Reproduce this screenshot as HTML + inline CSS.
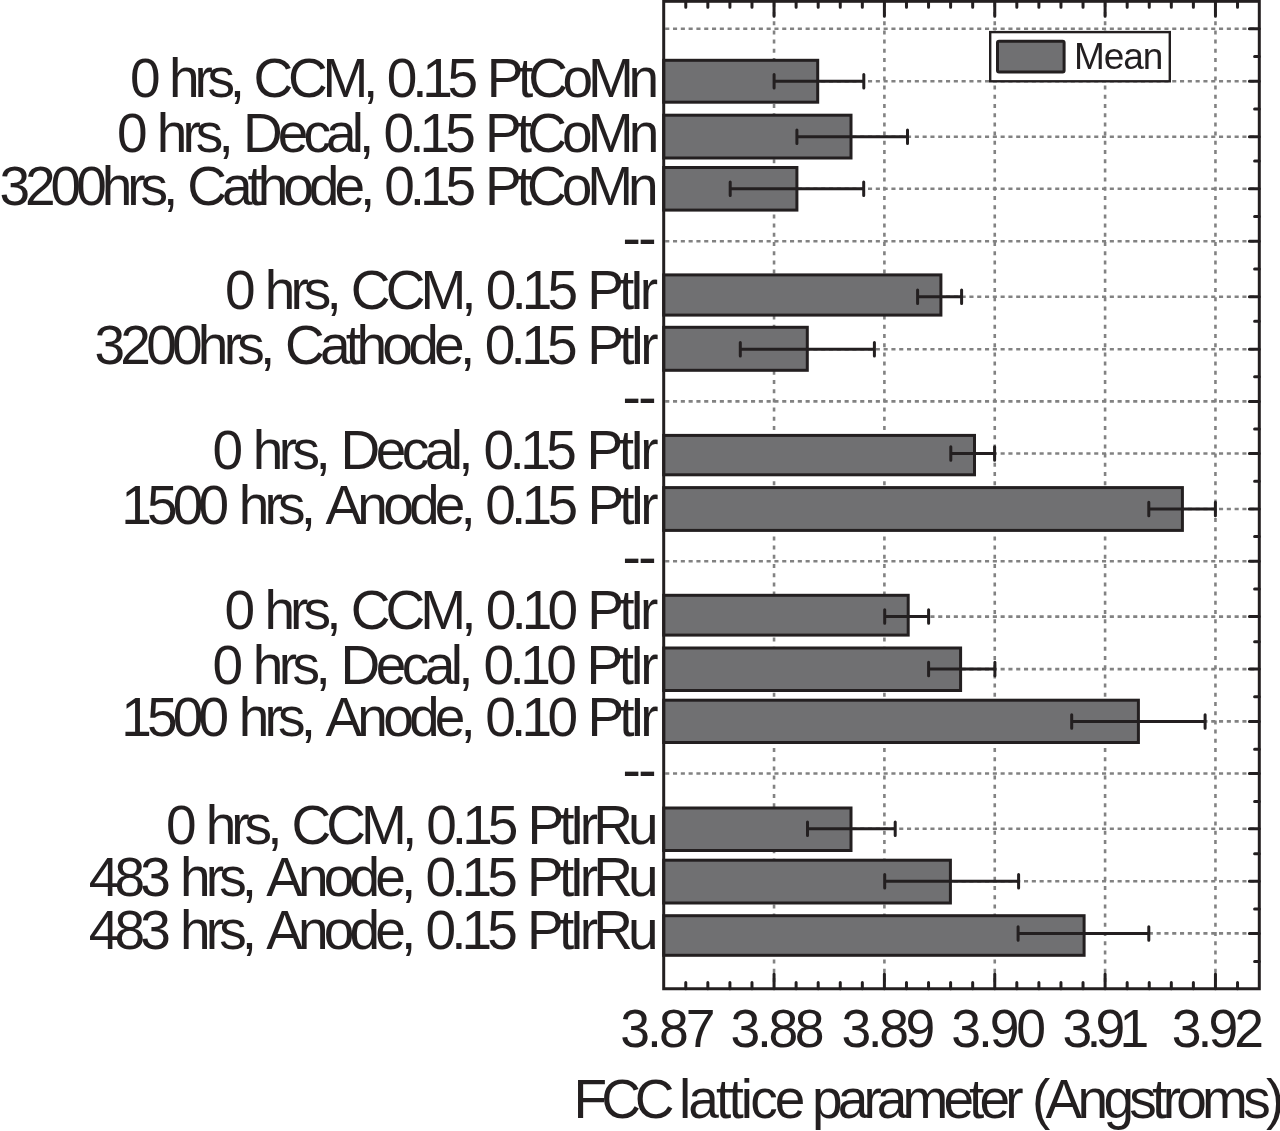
<!DOCTYPE html>
<html lang="en"><head><meta charset="utf-8"><title>FCC lattice parameter</title>
<style>html,body{margin:0;padding:0;background:#fff;overflow:hidden}svg{display:block}text{font-family:'Liberation Sans', Arial, Helvetica, sans-serif;fill:#231f20;font-kerning:none;letter-spacing:-4.87px;word-spacing:3.7px}</style></head><body>
<svg width="1280" height="1131" viewBox="0 0 1280 1131">
<rect x="0" y="0" width="1280" height="1131" fill="#fff"/>
<path d="M665.20 28.80H1257.80M665.20 81.30H1257.80M665.20 136.80H1257.80M665.20 188.70H1257.80M665.20 241.20H1257.80M665.20 296.70H1257.80M665.20 349.20H1257.80M665.20 401.40H1257.80M665.20 453.50H1257.80M665.20 509.00H1257.80M665.20 561.30H1257.80M665.20 616.60H1257.80M665.20 669.10H1257.80M665.20 721.40H1257.80M665.20 773.55H1257.80M665.20 828.80H1257.80M665.20 881.30H1257.80M665.20 933.40H1257.80" stroke="#828282" stroke-width="2.6" stroke-dasharray="4.1 3.7" fill="none"/>
<path d="M774.05 2.80V987.25M884.40 2.80V987.25M994.75 2.80V987.25M1105.10 2.80V987.25M1215.45 2.80V987.25" stroke="#828282" stroke-width="2.6" stroke-dasharray="4 5.2" fill="none"/>
<g fill="#707072" stroke="#231f20" stroke-width="3"><rect x="663.70" y="60.30" width="154.00" height="41.90"/><rect x="663.70" y="115.20" width="187.30" height="42.80"/><rect x="663.70" y="167.50" width="133.20" height="42.60"/><rect x="663.70" y="274.90" width="277.20" height="40.20"/><rect x="663.70" y="327.30" width="143.60" height="43.00"/><rect x="663.70" y="435.40" width="310.80" height="39.40"/><rect x="663.70" y="487.60" width="518.70" height="42.80"/><rect x="663.70" y="595.30" width="244.50" height="39.80"/><rect x="663.70" y="648.00" width="296.90" height="42.50"/><rect x="663.70" y="700.20" width="474.70" height="42.30"/><rect x="663.70" y="808.00" width="187.30" height="42.50"/><rect x="663.70" y="860.20" width="286.70" height="42.80"/><rect x="663.70" y="915.70" width="420.40" height="39.60"/></g>
<path d="M774.10 81.30H863.80M774.10 74.55V88.05M863.80 74.55V88.05M796.90 136.80H907.50M796.90 130.05V143.55M907.50 130.05V143.55M730.20 188.70H863.70M730.20 181.95V195.45M863.70 181.95V195.45M917.60 296.70H961.60M917.60 289.95V303.45M961.60 289.95V303.45M740.30 349.20H874.40M740.30 342.45V355.95M874.40 342.45V355.95M950.80 453.50H994.60M950.80 446.75V460.25M994.60 446.75V460.25M1148.80 509.00H1215.40M1148.80 502.25V515.75M1215.40 502.25V515.75M884.70 616.60H928.60M884.70 609.85V623.35M928.60 609.85V623.35M928.60 669.10H994.90M928.60 662.35V675.85M994.90 662.35V675.85M1071.70 721.40H1205.10M1071.70 714.65V728.15M1205.10 714.65V728.15M807.50 828.80H895.20M807.50 822.05V835.55M895.20 822.05V835.55M884.70 881.30H1018.60M884.70 874.55V888.05M1018.60 874.55V888.05M1018.10 933.40H1148.80M1018.10 926.65V940.15M1148.80 926.65V940.15" stroke="#231f20" stroke-width="3" fill="none" stroke-linecap="round"/>
<path d="M685.77 1.30V7.30M685.77 988.75V982.50M707.84 1.30V7.30M707.84 988.75V982.50M729.91 1.30V7.30M729.91 988.75V982.50M751.98 1.30V7.30M751.98 988.75V982.50M774.05 1.30V16.30M774.05 988.75V974.10M796.12 1.30V7.30M796.12 988.75V982.50M818.19 1.30V7.30M818.19 988.75V982.50M840.26 1.30V7.30M840.26 988.75V982.50M862.33 1.30V7.30M862.33 988.75V982.50M884.40 1.30V16.30M884.40 988.75V974.10M906.47 1.30V7.30M906.47 988.75V982.50M928.54 1.30V7.30M928.54 988.75V982.50M950.61 1.30V7.30M950.61 988.75V982.50M972.68 1.30V7.30M972.68 988.75V982.50M994.75 1.30V16.30M994.75 988.75V974.10M1016.82 1.30V7.30M1016.82 988.75V982.50M1038.89 1.30V7.30M1038.89 988.75V982.50M1060.96 1.30V7.30M1060.96 988.75V982.50M1083.03 1.30V7.30M1083.03 988.75V982.50M1105.10 1.30V16.30M1105.10 988.75V974.10M1127.17 1.30V7.30M1127.17 988.75V982.50M1149.24 1.30V7.30M1149.24 988.75V982.50M1171.31 1.30V7.30M1171.31 988.75V982.50M1193.38 1.30V7.30M1193.38 988.75V982.50M1215.45 1.30V16.30M1215.45 988.75V974.10M1237.52 1.30V7.30M1237.52 988.75V982.50M1259.30 28.80H1249.40M1259.30 56.40H1254.60M1259.30 81.30H1249.40M1259.30 109.00H1254.60M1259.30 136.80H1249.40M1259.30 161.10H1254.60M1259.30 188.70H1249.40M1259.30 216.60H1254.60M1259.30 241.20H1249.40M1259.30 269.10H1254.60M1259.30 296.70H1249.40M1259.30 321.20H1254.60M1259.30 349.20H1249.40M1259.30 376.70H1254.60M1259.30 401.40H1249.40M1259.30 429.00H1254.60M1259.30 453.50H1249.40M1259.30 481.20H1254.60M1259.30 509.00H1249.40M1259.30 536.60H1254.60M1259.30 561.30H1249.40M1259.30 589.05H1254.60M1259.30 616.60H1249.40M1259.30 641.70H1254.60M1259.30 669.10H1249.40M1259.30 696.70H1254.60M1259.30 721.40H1249.40M1259.30 749.30H1254.60M1259.30 773.55H1249.40M1259.30 801.50H1254.60M1259.30 828.80H1249.40M1259.30 853.70H1254.60M1259.30 881.30H1249.40M1259.30 909.10H1254.60M1259.30 933.40H1249.40M1259.30 961.60H1254.60" stroke="#231f20" stroke-width="3" fill="none" stroke-linecap="round"/>
<rect x="663.70" y="1.30" width="595.60" height="987.45" fill="none" stroke="#231f20" stroke-width="3"/>
<rect x="990.2" y="32.1" width="179.6" height="49.2" fill="#fff" stroke="#231f20" stroke-width="2.4"/>
<rect x="997.5" y="41.3" width="66.6" height="30.6" rx="1.5" fill="#707072" stroke="#231f20" stroke-width="3"/>
<text x="1074" y="69.0" font-size="37" style="letter-spacing:-1.1px;word-spacing:0">Mean</text>
<text x="130.00" y="96.60" font-size="55.00" textLength="524.25" lengthAdjust="spacing">0 hrs, CCM, 0.15 PtCoMn</text>
<text x="117.00" y="151.80" font-size="55.00" textLength="537.38" lengthAdjust="spacing">0 hrs, Decal, 0.15 PtCoMn</text>
<text x="-0.50" y="204.50" font-size="55.00" textLength="654.25" lengthAdjust="spacing">3200hrs, Cathode, 0.15 PtCoMn</text>
<text x="622.40" y="256.71" font-size="55.00" textLength="29.31" lengthAdjust="spacing">--</text>
<text x="225.00" y="309.00" font-size="55.00" textLength="428.18" lengthAdjust="spacing">0 hrs, CCM, 0.15 PtIr</text>
<text x="94.40" y="364.00" font-size="55.00" textLength="559.33" lengthAdjust="spacing">3200hrs, Cathode, 0.15 PtIr</text>
<text x="622.40" y="416.21" font-size="55.00" textLength="29.31" lengthAdjust="spacing">--</text>
<text x="212.40" y="469.00" font-size="55.00" textLength="441.20" lengthAdjust="spacing">0 hrs, Decal, 0.15 PtIr</text>
<text x="121.20" y="524.00" font-size="55.00" textLength="532.58" lengthAdjust="spacing">1500 hrs, Anode, 0.15 PtIr</text>
<text x="622.40" y="576.41" font-size="55.00" textLength="29.31" lengthAdjust="spacing">--</text>
<text x="224.60" y="629.00" font-size="55.00" textLength="428.78" lengthAdjust="spacing">0 hrs, CCM, 0.10 PtIr</text>
<text x="212.40" y="684.00" font-size="55.00" textLength="441.20" lengthAdjust="spacing">0 hrs, Decal, 0.10 PtIr</text>
<text x="121.20" y="736.40" font-size="55.00" textLength="532.58" lengthAdjust="spacing">1500 hrs, Anode, 0.10 PtIr</text>
<text x="622.40" y="789.01" font-size="55.00" textLength="29.31" lengthAdjust="spacing">--</text>
<text x="166.00" y="844.00" font-size="55.00" textLength="487.64" lengthAdjust="spacing">0 hrs, CCM, 0.15 PtIrRu</text>
<text x="88.80" y="896.40" font-size="55.00" textLength="564.92" lengthAdjust="spacing">483 hrs, Anode, 0.15 PtIrRu</text>
<text x="88.80" y="948.70" font-size="55.00" textLength="564.92" lengthAdjust="spacing">483 hrs, Anode, 0.15 PtIrRu</text>
<text x="620.20" y="1047.30" font-size="53.50" textLength="90.56" lengthAdjust="spacing">3.87</text>
<text x="730.60" y="1047.30" font-size="53.50" textLength="89.16" lengthAdjust="spacing">3.88</text>
<text x="841.40" y="1047.30" font-size="53.50" textLength="88.96" lengthAdjust="spacing">3.89</text>
<text x="951.20" y="1047.30" font-size="53.50" textLength="90.06" lengthAdjust="spacing">3.90</text>
<text x="1062.40" y="1047.30" font-size="53.50" textLength="81.96" lengthAdjust="spacing">3.91</text>
<text x="1171.80" y="1047.30" font-size="53.50" textLength="87.36" lengthAdjust="spacing">3.92</text>
<text x="573.60" y="1118.10" font-size="55.00" textLength="96.04" lengthAdjust="spacing">FCC</text>
<text x="679.00" y="1118.10" font-size="55.00" textLength="121.49" lengthAdjust="spacing">lattice</text>
<text x="812.00" y="1118.10" font-size="55.00" textLength="206.64" lengthAdjust="spacing">parameter</text>
<text x="1032.00" y="1118.10" font-size="55.00" textLength="247.44" lengthAdjust="spacing">(Angstroms)</text>
</svg></body></html>
